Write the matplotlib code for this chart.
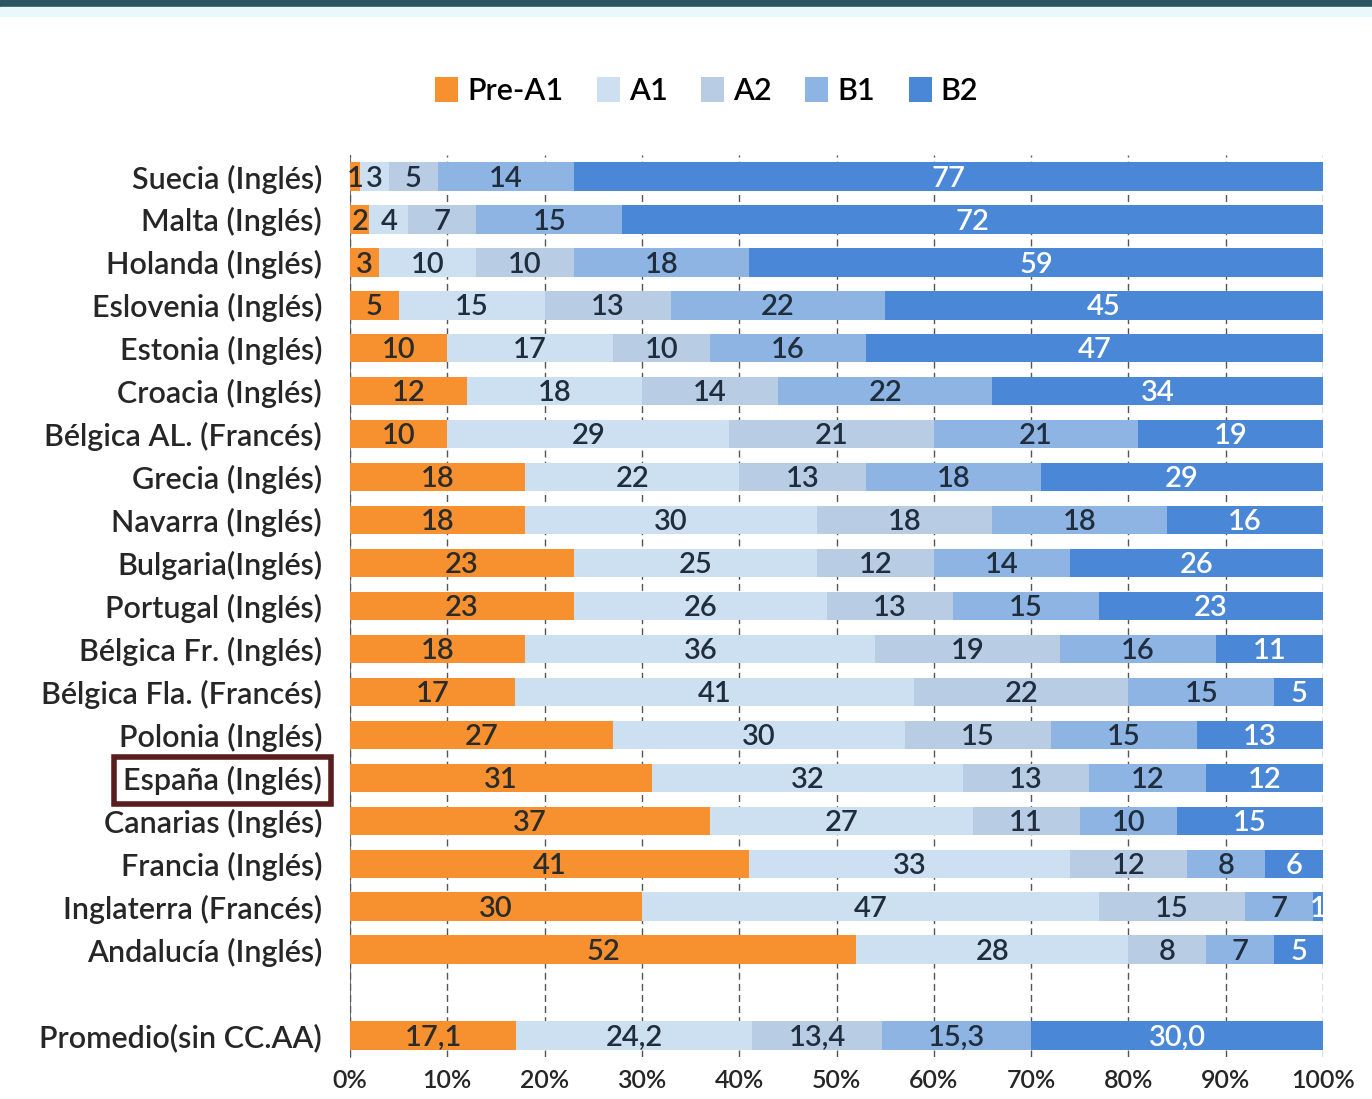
import matplotlib
matplotlib.use("Agg")
import matplotlib.pyplot as plt
import numpy as np
from matplotlib.patches import Rectangle

plt.rcParams['font.family'] = ['Lato', 'DejaVu Sans']

# data
paises = ["Suecia (Inglés)", "Malta (Inglés)", "Holanda (Inglés)", "Eslovenia (Inglés)",
          "Estonia (Inglés)", "Croacia (Inglés)", "Bélgica AL. (Francés)", "Grecia (Inglés)",
          "Navarra (Inglés)", "Bulgaria(Inglés)", "Portugal (Inglés)", "Bélgica Fr. (Inglés)",
          "Bélgica Fla. (Francés)", "Polonia (Inglés)", "España (Inglés)", "Canarias (Inglés)",
          "Francia (Inglés)", "Inglaterra (Francés)", "Andalucía (Inglés)", "Promedio(sin CC.AA)"]
niveles = ["Pre-A1", "A1", "A2", "B1", "B2"]
pre_a1 = [1, 2, 3, 5, 10, 12, 10, 18, 18, 23, 23, 18, 17, 27, 31, 37, 41, 30, 52, 17.1]
a1 = [3, 4, 10, 15, 17, 18, 29, 22, 30, 25, 26, 36, 41, 30, 32, 27, 33, 47, 28, 24.2]
a2 = [5, 7, 10, 13, 10, 14, 21, 13, 18, 12, 13, 19, 22, 15, 13, 11, 12, 15, 8, 13.4]
b1 = [14, 15, 18, 22, 16, 22, 21, 18, 18, 14, 15, 16, 15, 15, 12, 10, 8, 7, 7, 15.3]
b2 = [77, 72, 59, 45, 47, 34, 19, 29, 16, 26, 23, 11, 5, 13, 12, 15, 6, 1, 5, 30.0]
xticks = ["0%", "10%", "20%", "30%", "40%", "50%", "60%", "70%", "80%", "90%", "100%"]

colores = ["#F7912F", "#CCE0F2", "#B8CCE4", "#8DB4E2", "#4A87D6"]
color_txt = ["#2b2b2b", "#1f2d3d", "#1f2d3d", "#1f2d3d", "white"]

series = [pre_a1, a1, a2, b1, b2]
# one empty row before Promedio
ypos = list(range(len(paises) - 1)) + [len(paises)]

fig = plt.figure(figsize=(13.72, 10.99), dpi=100)
ax = fig.add_axes([350 / 1372, 1 - 1057 / 1099, 973 / 1372, (1057 - 155) / 1099])

left = np.zeros(len(paises))
for i, (vals, nombre) in enumerate(zip(series, niveles)):
    vals = np.array(vals, dtype=float)
    bars = ax.barh(ypos, vals, left=left, height=0.66, color=colores[i], label=nombre, zorder=2)
    for j, (b, v) in enumerate(zip(bars, vals)):
        if j == len(paises) - 1:
            txt = f"{v:.1f}".replace(".", ",")
        else:
            txt = f"{v:.0f}"
        ax.text(left[j] + v / 2, ypos[j] + 0.05, txt, ha="center", va="center",
                fontsize=21, fontweight="semibold", color=color_txt[i], zorder=3)
    left += vals

ax.set_xlim(0, 100)
ax.set_ylim(len(paises) + 0.5, -0.5)
ax.set_xticks(np.arange(0, 101, 10))
ax.set_xticklabels(xticks, fontsize=18, color="#262626", fontweight="semibold")
ax.tick_params(axis="x", length=0, pad=9)
ax.set_yticks(ypos)
ax.set_yticklabels(paises, fontsize=22, color="#262626", fontweight="semibold")
ax.tick_params(axis="y", length=0, pad=20)
ax.xaxis.grid(True, color="#555555", linestyle=(0, (5, 3)), linewidth=1, zorder=0)
for s in ["top", "right", "bottom"]:
    ax.spines[s].set_visible(False)
ax.spines["left"].set_color("#777777")
ax.spines["left"].set_zorder(1)

# frame around España
for lbl in ax.get_yticklabels():
    if lbl.get_text().startswith("España"):
        lbl.set_bbox(dict(boxstyle="square,pad=0.3", fc="white", ec="#5a1d1d", lw=4))

fig.legend(loc="center", bbox_to_anchor=(0.515, 0.917), ncol=5, frameon=False,
           prop={"size": 22, "weight": "semibold"}, handlelength=0.75, handleheight=0.9,
           handletextpad=0.3, columnspacing=1.1)

# dark band at the top
fig.patches.append(Rectangle((0, 1 - 7 / 1099), 1, 7 / 1099, transform=fig.transFigure,
                             color="#2b5660", zorder=5))
fig.patches.append(Rectangle((0, 1 - 16 / 1099), 1, 9 / 1099, transform=fig.transFigure,
                             color="#e8f8fb", zorder=5))

fig.savefig("out.png", dpi=100)
